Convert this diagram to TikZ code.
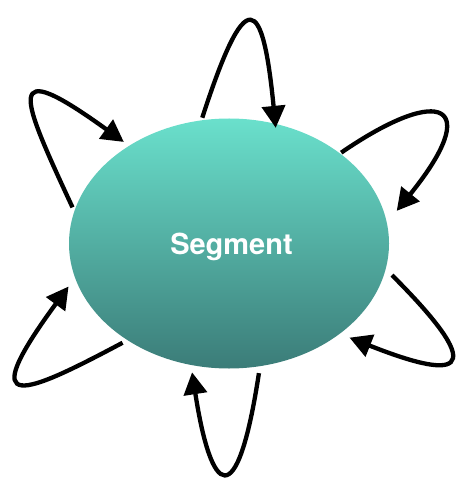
\documentclass[tikz,border=0pt]{standalone}
\usepackage{fontspec}
\setmainfont{TeX Gyre Heros}
\usepackage{xcolor}
\usepackage{tikz}
\usetikzlibrary{shapes.geometric, arrows.meta, calc}

\definecolor{segtop}{HTML}{6AE0CC}
\definecolor{segbot}{HTML}{3B7C78}

\begin{document}
\begin{tikzpicture}[
  x=1pt, y=-1pt,
  segment/.style={ellipse, top color=segtop, bottom color=segbot, draw=none,
                  minimum width=320pt, minimum height=250pt, inner sep=0pt, outer sep=0pt,
                  text=white, text depth=0pt, font=\fontsize{29}{34}\selectfont\bfseries},
  selfarr/.style={-{Triangle[length=22pt, width=23pt]}, line width=4.3pt}
]
  \useasboundingbox (0,0) rectangle (474,502);

  \node[segment] (seg) at (229,243.5) {\hspace*{5pt}Segment};

  % self loops, clockwise from the top
  \draw[selfarr] ($(seg.center)!1.02!(seg.102)$) .. controls +(44,-136) and +(-13,-132) .. ($(seg.center)!0.97!(seg.68)$);
  \draw[selfarr] ($(seg.center)!1.01!(seg.39)$) .. controls +(102,-70) and +(86,-106) .. ($(seg.center)!1.08!(seg.11)$);
  \draw[selfarr] ($(seg.center)!1.05!(seg.-11)$) .. controls +(106,106) and +(101,40) .. ($(seg.center)!1.065!(seg.-38)$);
  \draw[selfarr] ($(seg.center)!1.054!(seg.-77)$) .. controls +(-22,144) and +(19,123) .. ($(seg.center)!1.056!(seg.-106)$);
  \draw[selfarr] ($(seg.center)!1.036!(seg.-137)$) .. controls +(-96,51) and +(-97,132) .. ($(seg.center)!1.06!(seg.-165)$);
  \draw[selfarr] ($(seg.center)!1.02!(seg.167)$) .. controls +(-52,-112) and +(-122,-88) .. ($(seg.center)!1.045!(seg.136)$);
\end{tikzpicture}
\end{document}
